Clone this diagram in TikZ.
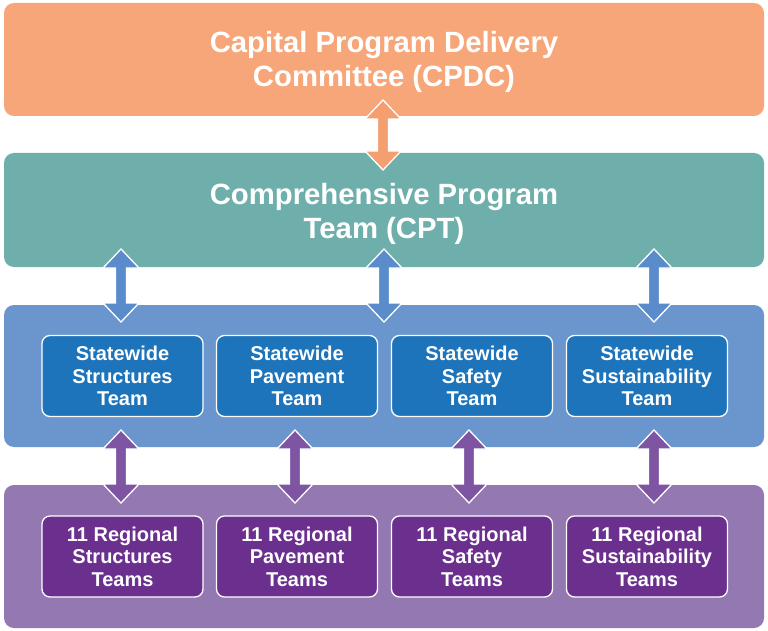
\documentclass[tikz,border=0pt]{standalone}
\usepackage{fontspec}
\setmainfont{Liberation Sans}
\usetikzlibrary{calc}
\definecolor{cOrange}{HTML}{F7A679}
\definecolor{cTeal}{HTML}{6EAFAC}
\definecolor{cBlueBand}{HTML}{6A96CD}
\definecolor{cBlueBox}{HTML}{1D74BB}
\definecolor{cPurpleBand}{HTML}{9478B2}
\definecolor{cPurpleBox}{HTML}{6B2F8E}
\definecolor{aOrange}{HTML}{F59E70}
\definecolor{aBlue}{HTML}{5A8BCB}
\definecolor{aPurple}{HTML}{7F55A3}
\newcommand\dblarr[3]{%
  \filldraw[fill=#3,draw=white,line width=1.3pt,line join=miter]
    (#1) -- ++(18pt,-19pt) -- ++(-12.5pt,0pt) -- ($(#2)+(5.5pt,19pt)$)
    -- ++(12.5pt,0pt) -- (#2) -- ++(-18pt,19pt) -- ++(12.5pt,0pt)
    -- ($(#1)+(-5.5pt,-19pt)$) -- ++(-12.5pt,0pt) -- cycle;}
\begin{document}
\begin{tikzpicture}[x=1pt,y=-1pt,
  band/.style={rounded corners=10pt, minimum width=760pt, inner sep=0pt, outer sep=0pt, text=white, font=\bfseries\fontsize{29.3}{34.5}\selectfont, align=center},
  inbox/.style={rounded corners=8pt, draw=white, line width=1.3pt, minimum width=161pt, minimum height=81pt, inner sep=0pt, text=white, font=\bfseries\fontsize{20}{22.5}\selectfont, align=center}]
\useasboundingbox[fill=white] (0,0) rectangle (768,631);
% bands
\node[band, fill=cOrange, minimum height=113pt] (cpdc) at (384,59.5) {};
\node[band, fill=cTeal, minimum height=114pt] (cpt) at (384,210) {};
\node[band, fill=cBlueBand, minimum height=142pt] (sw) at (384,376) {};
\node[band, fill=cPurpleBand, minimum height=143pt] (rg) at (384,556.5) {};
\node[band, minimum width=0pt] (cpdct) at (384,62) {Capital Program Delivery\\Committee (CPDC)};
\node[band, minimum width=0pt] (cptt) at (384,214) {Comprehensive Program\\Team (CPT)};
% statewide boxes
\node[inbox, fill=cBlueBox] (s1) at (122.5,376) {Statewide\\Structures\\Team};
\node[inbox, fill=cBlueBox] (s2) at (297,376) {Statewide\\Pavement\\Team};
\node[inbox, fill=cBlueBox] (s3) at (472,376) {Statewide\\Safety\\Team};
\node[inbox, fill=cBlueBox] (s4) at (647,376) {Statewide\\Sustainability\\Team};
% regional boxes
\node[inbox, fill=cPurpleBox] (r1) at (122.5,556.5) {11 Regional\\Structures\\Teams};
\node[inbox, fill=cPurpleBox] (r2) at (297,556.5) {11 Regional\\Pavement\\Teams};
\node[inbox, fill=cPurpleBox] (r3) at (472,556.5) {11 Regional\\Safety\\Teams};
\node[inbox, fill=cPurpleBox] (r4) at (647,556.5) {11 Regional\\Sustainability\\Teams};
% arrow end points
\coordinate (o1t) at (383,100); \coordinate (o1b) at (383,170);
\coordinate (b1t) at (121,249); \coordinate (b1b) at (121,322);
\coordinate (b2t) at (384,249); \coordinate (b2b) at (384,322);
\coordinate (b3t) at (654,249); \coordinate (b3b) at (654,322);
\coordinate (p1t) at (121,430); \coordinate (p1b) at (121,503);
\coordinate (p2t) at (295,430); \coordinate (p2b) at (295,503);
\coordinate (p3t) at (469,430); \coordinate (p3b) at (469,503);
\coordinate (p4t) at (654,430); \coordinate (p4b) at (654,503);
\dblarr{o1t}{o1b}{aOrange}
\dblarr{b1t}{b1b}{aBlue}
\dblarr{b2t}{b2b}{aBlue}
\dblarr{b3t}{b3b}{aBlue}
\dblarr{p1t}{p1b}{aPurple}
\dblarr{p2t}{p2b}{aPurple}
\dblarr{p3t}{p3b}{aPurple}
\dblarr{p4t}{p4b}{aPurple}
\end{tikzpicture}
\end{document}
